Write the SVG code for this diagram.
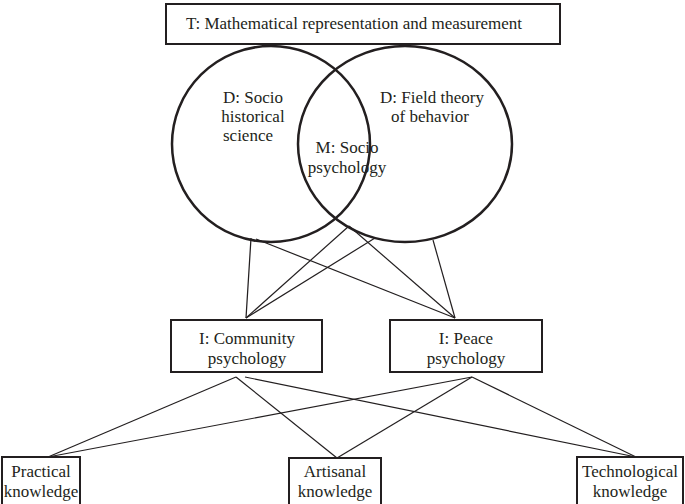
<svg xmlns="http://www.w3.org/2000/svg" width="685" height="504" viewBox="0 0 685 504">
<style>
text{font-family:"Liberation Serif",serif;font-size:17px;fill:#231f20;text-anchor:middle}
.b{fill:#fff;stroke:#231f20;stroke-width:2}
.c{fill:none;stroke:#231f20;stroke-width:2.5}
#conn line{stroke:#231f20;stroke-width:1.2}
</style>
<rect width="685" height="504" fill="#fff"/>
<g id="conn">
<line x1="251" y1="238" x2="246" y2="318"/>
<line x1="256" y1="239" x2="455" y2="318"/>
<line x1="349" y1="226" x2="246" y2="318"/>
<line x1="349" y1="226" x2="455" y2="318"/>
<line x1="375" y1="238" x2="246" y2="318"/>
<line x1="433" y1="240" x2="455" y2="318"/>
<line x1="236" y1="377" x2="48" y2="457"/>
<line x1="236" y1="377" x2="337" y2="458"/>
<line x1="245" y1="377" x2="636" y2="457"/>
<line x1="472" y1="377" x2="48" y2="457"/>
<line x1="472" y1="377" x2="337" y2="458"/>
<line x1="472" y1="377" x2="636" y2="457"/>
</g>
<g id="top"><rect class="b" x="166" y="4" width="394" height="40"/><text x="354" y="29">T: Mathematical representation and measurement</text></g>
<g id="left"><ellipse class="c" cx="271" cy="144" rx="99" ry="98"/><text x="253" y="103">D: Socio</text><text x="253" y="122">historical</text><text x="248" y="141">science</text></g>
<g id="right"><ellipse class="c" cx="405" cy="144" rx="107" ry="98"/><text x="432" y="103">D: Field theory</text><text x="430" y="122">of behavior</text></g>
<g id="mid"><text x="347" y="153">M: Socio</text><text x="347" y="173">psychology</text></g>
<g id="comm"><rect class="b" x="171" y="320" width="151" height="52"/><text x="247" y="344">I: Community</text><text x="247" y="364">psychology</text></g>
<g id="peace"><rect class="b" x="390" y="320" width="152" height="52"/><text x="466" y="344">I: Peace</text><text x="466" y="364">psychology</text></g>
<g id="prac"><rect class="b" x="2" y="457" width="78" height="50"/><text x="41" y="477">Practical</text><text x="41" y="497">knowledge</text></g>
<g id="art"><rect class="b" x="289" y="458" width="92" height="50"/><text x="335" y="477">Artisanal</text><text x="335" y="497">knowledge</text></g>
<g id="tech"><rect class="b" x="577" y="457" width="106" height="50"/><text x="630" y="477">Technological</text><text x="630" y="497">knowledge</text></g>
</svg>
